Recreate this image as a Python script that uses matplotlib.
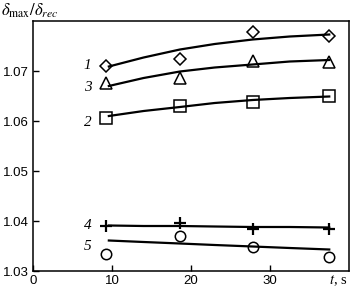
import numpy as np
import matplotlib.pyplot as plt

# measured points
t = [9.2, 18.6, 27.8, 37.5]
s1 = [1.0711, 1.0724, 1.0778, 1.0770]   # diamonds
s3 = [1.0677, 1.0687, 1.0720, 1.0718]   # triangles
s2 = [1.0607, 1.0631, 1.0639, 1.0650]   # squares
s4 = [1.0390, 1.0397, 1.0385, 1.0384]   # plus
s5 = [1.0335, 1.0370, 1.0349, 1.0329]   # circles

# fitted curves
t_fit = [9.6, 14.0, 18.6, 23.0, 27.8, 32.5, 37.5]
f1 = [1.0709, 1.0727, 1.0743, 1.0754, 1.0763, 1.0769, 1.0773]
f3 = [1.0670, 1.0686, 1.0699, 1.0707, 1.0713, 1.0719, 1.0722]
f2 = [1.0610, 1.0620, 1.0628, 1.0636, 1.0642, 1.0646, 1.0649]
f4 = [1.0391, 1.0390, 1.0390, 1.0389, 1.0388, 1.0388, 1.0387]
f5 = [1.0361, 1.0358, 1.0355, 1.0352, 1.0349, 1.0346, 1.0343]

labels = ['1', '3', '2', '4', '5']
label_y = [1.0712, 1.0667, 1.0597, 1.0391, 1.0350]

fig = plt.figure(figsize=(3.55, 2.92), dpi=100)
ax = fig.add_axes([33/355, 21/292, 316/355, 250/292])

mk = dict(mfc='white', mec='black', mew=1.1, ls='none')
ax.plot(t, s1, marker='D', ms=6.5, **mk)
ax.plot(t, s3, marker='^', ms=8.5, **mk)
ax.plot(t, s2, marker='s', ms=8.5, **mk)
ax.plot(t, s4, marker='+', ms=9, mew=1.6, color='black', ls='none')
ax.plot(t, s5, marker='o', ms=7.5, **mk)

for f in [f1, f3, f2, f4, f5]:
    ax.plot(t_fit, f, color='black', lw=1.6)

for lab, y in zip(labels, label_y):
    ax.text(6.9, y, lab, fontsize=11, family='Liberation Serif', style='italic',
            ha='center', va='center')

ax.set_xlim(0, 40)
ax.set_ylim(1.03, 1.08)
ax.set_xticks([0, 10, 20, 30])
ax.set_yticks([1.03, 1.04, 1.05, 1.06, 1.07])
ax.set_yticklabels(['1.03', '1.04', '1.05', '1.06', '1.07'])
ax.tick_params(direction='in', length=4, width=1, labelsize=9.5, pad=3)
for lab in ax.get_xticklabels() + ax.get_yticklabels():
    lab.set_family('Liberation Sans')
for sp in ax.spines.values():
    sp.set_linewidth(1.1)

fig.text(1/355, 1 - 11/292, r'$\delta_{\mathrm{max}}/\delta_{rec}$', fontsize=12,
         ha='left', va='center', math_fontfamily='stix')
fig.text(338/355, 1 - 281/292, r'$t$, s', fontsize=10.5, family='Liberation Serif',
         ha='center', va='center', math_fontfamily='stix')

fig.savefig('out.png', dpi=100)
